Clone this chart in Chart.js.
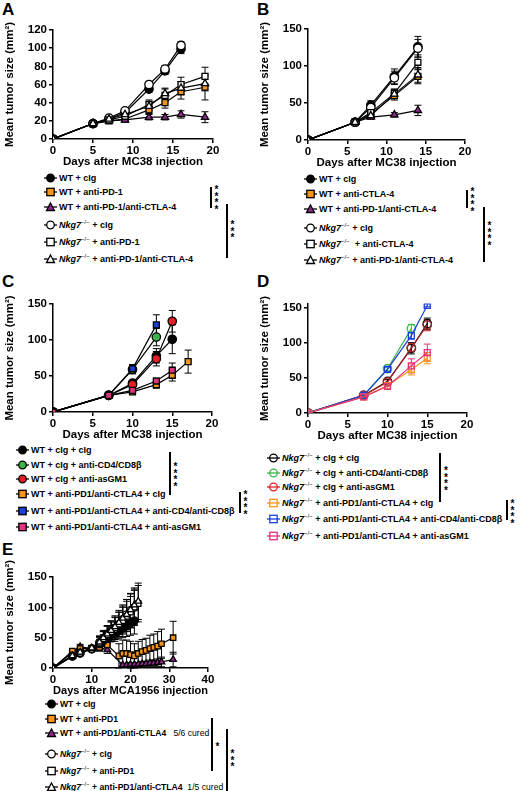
<!DOCTYPE html>
<html>
<head>
<meta charset="utf-8">
<script src="https://cdn.jsdelivr.net/npm/chart.js@4.4.1/dist/chart.umd.min.js"></script>
<style>
  body { margin:0; background:#fff; width:520px; height:791px; position:relative; overflow:hidden;
         font-family:"Liberation Sans", Arial, sans-serif; }
  .cv { position:absolute; }
  .lt { position:absolute; font-weight:bold; font-size:17px; }
  .lg { position:absolute; font-weight:bold; font-size:9px; white-space:nowrap; line-height:12px; }
  .lg.sm { font-size:8.6px; }
  .lg svg { vertical-align:middle; margin-right:2px; position:relative; top:-1px; }
  .lg sup { font-size:6px; font-weight:normal; }
  .bar { position:absolute; border-left:2px solid #000; }
  .st { position:absolute; font-weight:bold; font-size:10px; line-height:10px; }
  .cu { position:absolute; font-size:8.6px; white-space:nowrap; }
</style>
</head>
<body>
<div class="lt" style="left:2px;top:0px">A</div>
<div class="lt" style="left:257px;top:0px">B</div>
<div class="lt" style="left:2px;top:272px">C</div>
<div class="lt" style="left:257px;top:272px">D</div>
<div class="lt" style="left:2px;top:540px">E</div>

<canvas id="cA" class="cv"></canvas>
<canvas id="cB" class="cv"></canvas>
<canvas id="cC" class="cv"></canvas>
<canvas id="cD" class="cv"></canvas>
<canvas id="cE" class="cv"></canvas>

<div id="legends"></div>

<script>
// ---- panel A: MC38, anti-PD-1 ----
const daysA = [0, 5, 7, 9, 12, 14, 16, 19];
const aWtCig = [0, 17, 22, 29, 55, 75, 99];
const aWtCigErr = [0, 1, 2, 2, 3, 4, 5];
const aWtPd1 = [0, 17, 20, 22, 32, 40, 52, 57];
const aWtPd1Err = [0, 1, 1, 2, 4, 6, 8, 14];
const aWtCombo = [0, 17, 20, 21, 24, 24, 27, 24];
const aWtComboErr = [0, 1, 1, 1, 3, 3, 4, 6];
const aNkCig = [0, 17, 23, 31, 60, 77, 103];
const aNkCigErr = [0, 1, 2, 2, 3, 4, 4];
const aNkPd1 = [0, 17, 21, 25, 38, 48, 60, 69];
const aNkPd1Err = [0, 1, 2, 3, 5, 7, 8, 10];
const aNkCombo = [0, 17, 22, 27, 36, 50, 56, 61];
const aNkComboErr = [0, 1, 2, 3, 5, 6, 7, 8];

// ---- panel B: MC38, anti-CTLA-4 ----
const daysB = [0, 6, 8, 11, 14];
const bWtCig = [0, 24, 47, 86, 126];
const bWtCigErr = [0, 2, 6, 10, 14];
const bWtCtla = [0, 24, 35, 60, 86];
const bWtCtlaErr = [0, 2, 5, 6, 10];
const bWtCombo = [0, 24, 31, 34, 40];
const bWtComboErr = [0, 2, 3, 3, 7];
const bNkCig = [0, 24, 44, 84, 124];
const bNkCigErr = [0, 2, 5, 9, 12];
const bNkCtla = [0, 24, 37, 63, 105];
const bNkCtlaErr = [0, 2, 5, 6, 10];
const bNkCombo = [0, 24, 33, 62, 88];
const bNkComboErr = [0, 2, 4, 6, 10];

// ---- panel C: WT depletion ----
const daysC = [0, 7, 10, 13, 15, 17];
const cCigCig = [0, 23, 40, 78, 101];
const cCigCigErr = [0, 2, 4, 10, 20];
const cCigCd = [0, 23, 59, 104];
const cCigCdErr = [0, 2, 6, 12];
const cCigGm = [0, 23, 38, 74, 126];
const cCigGmErr = [0, 2, 4, 10, 15];
const cComboCig = [0, 23, 28, 38, 51, 70];
const cComboCigErr = [0, 2, 3, 5, 8, 16];
const cComboCd = [0, 23, 60, 121];
const cComboCdErr = [0, 2, 6, 14];
const cComboGm = [0, 23, 30, 43, 58];
const cComboGmErr = [0, 2, 3, 4, 10];

// ---- panel D: Nkg7-/- depletion ----
const daysD = [0, 7, 10, 13, 15];
const dCigCig = [0, 25, 45, 92, 127];
const dCigCigErr = [0, 2, 3, 8, 8];
const dCigCd = [0, 25, 63, 120];
const dCigCdErr = [0, 2, 3, 6];
const dCigGm = [0, 25, 44, 93, 125];
const dCigGmErr = [0, 2, 3, 6, 8];
const dComboCig = [0, 23, 39, 62, 78];
const dComboCigErr = [0, 2, 4, 8, 8];
const dComboCd = [0, 25, 62, 110, 153];
const dComboCdErr = [0, 2, 3, 5, 2];
const dComboGm = [0, 23, 38, 67, 86];
const dComboGmErr = [0, 2, 4, 10, 12];

// ---- panel E: MCA1956 ----
const eDaysShort = [0, 5, 7, 10, 12, 13, 14, 15, 16, 17, 18, 19, 20, 21];
const eWtCig = [0, 19, 24, 31, 40, 45, 50, 55, 58, 62, 66, 70, 74, 78];
const eWtCigErr = [0, 3, 4, 4, 10, 10, 12, 12, 14, 14, 16, 18, 20, 22];
const eNkCig = [0, 20, 25, 32, 42, 48, 55, 60, 65, 72, 80, 88, 95, 100];
const eNkCigErr = [0, 3, 4, 4, 10, 12, 14, 16, 18, 20, 22, 25, 28, 30];
const eDaysNk = [0, 5, 7, 10, 12, 13, 14, 15, 16, 17, 18, 19, 20, 21, 22];
const eNkPd1 = [0, 20, 26, 33, 42, 48, 55, 60, 66, 72, 78, 85, 92, 100, 106];
const eNkPd1Err = [0, 3, 4, 4, 10, 12, 14, 16, 18, 20, 22, 25, 26, 28, 30];
const eNkCombo = [0, 20, 26, 33, 43, 50, 56, 62, 68, 75, 82, 88, 96, 104, 110];
const eNkComboErr = [0, 3, 4, 4, 10, 12, 14, 16, 18, 20, 22, 25, 26, 28, 30];
const eDaysPd1 = [0, 5, 7, 10, 12, 14, 17, 18, 19, 20, 21, 22, 23, 24, 25, 26, 27, 28, 31];
const eWtPd1 = [0, 28, 32, 32, 34, 38, 20, 24, 24, 22, 20, 24, 27, 29, 32, 34, 36, 40, 50];
const eWtPd1Err = [0, 3, 4, 4, 6, 10, 20, 22, 22, 22, 20, 20, 20, 20, 22, 22, 24, 24, 27];
const eDaysCombo = [0, 5, 7, 10, 12, 14, 18, 19, 20, 21, 22, 23, 24, 25, 26, 27, 28, 31];
const eWtCombo = [0, 25, 35, 32, 34, 30, 5, 5, 6, 6, 6, 7, 7, 8, 8, 9, 10, 14];
const eWtComboErr = [0, 3, 4, 4, 6, 6, 2, 2, 3, 3, 3, 4, 4, 5, 5, 6, 8, 12];

const ORANGE = "#F7941D", PURPLE = "#92278F", GREEN = "#3CB54A", RED = "#E31E24",
      BLUE = "#1B3FD8", PINK = "#E2337D", DRED = "#B0262B";

function pts(days, vals) { return vals.map((v, i) => ({ x: days[i], y: v })); }

function series(days, vals, err, shape, fill, line, errColor, r) {
  return {
    data: pts(days, vals), err: err, errColor: errColor || "#000",
    pointStyle: shape, pointRadius: r || 4.2, pointBackgroundColor: fill,
    pointBorderColor: line || "#000", pointBorderWidth: 1.3,
    borderColor: line || "#000", borderWidth: 1.2, showLine: true, fill: false
  };
}

const errorBars = {
  id: "errorBars",
  beforeDatasetsDraw(chart) {
    const ctx = chart.ctx, xs = chart.scales.x, ys = chart.scales.y;
    chart.data.datasets.forEach((ds) => {
      if (!ds.err) return;
      ctx.save();
      ctx.strokeStyle = ds.errColor;
      ctx.lineWidth = 1;
      ds.data.forEach((p, j) => {
        const e = ds.err[j];
        if (!e) return;
        const px = xs.getPixelForValue(p.x);
        const t = ys.getPixelForValue(p.y + e), b = ys.getPixelForValue(Math.max(0, p.y - e));
        ctx.beginPath();
        ctx.moveTo(px, t); ctx.lineTo(px, b);
        ctx.moveTo(px - 3.5, t); ctx.lineTo(px + 3.5, t);
        ctx.moveTo(px - 3.5, b); ctx.lineTo(px + 3.5, b);
        ctx.stroke();
      });
      ctx.restore();
    });
  }
};

Chart.defaults.font.family = '"Liberation Sans", Arial, sans-serif';
Chart.defaults.color = "#000";

const Y_W = 50, X_H = 30, PAD_T = 10, PAD_R = 10;

// box = [axisLeft, axisRight, topPixel, zeroPixel, extraTop]
function makeChart(id, box, datasets, xMax, xStep, yMax, yStep, xTitle) {
  const cv = document.getElementById(id);
  const extra = box[4] || 0;
  const left = box[0] - Y_W, top = box[2] - PAD_T - extra;
  cv.width = box[1] - left + PAD_R;
  cv.height = box[3] - top + X_H;
  cv.style.left = left + "px";
  cv.style.top = top + "px";
  new Chart(cv, {
    type: "scatter",
    data: { datasets: datasets },
    plugins: [errorBars],
    options: {
      responsive: false, animation: false,
      layout: { padding: { left: 0, right: PAD_R, top: PAD_T + extra, bottom: 0 } },
      plugins: { legend: { display: false }, tooltip: { enabled: false } },
      scales: {
        x: {
          type: "linear", min: 0, max: xMax,
          afterFit: (s) => { s.height = X_H; },
          ticks: { stepSize: xStep, font: { size: 11.5, weight: "bold" }, padding: 1 },
          grid: { drawOnChartArea: false, color: "#000", lineWidth: 1.5, tickLength: 4 },
          border: { color: "#000", width: 1.5 },
          title: { display: true, text: xTitle, font: { size: 11.5, weight: "bold" }, padding: 0 }
        },
        y: {
          min: 0, max: yMax,
          afterFit: (s) => { s.width = Y_W; },
          ticks: { stepSize: yStep, includeBounds: false, font: { size: 11.5, weight: "bold" }, padding: 2 },
          grid: { drawOnChartArea: false, color: "#000", lineWidth: 1.5, tickLength: 4 },
          border: { color: "#000", width: 1.5 },
          title: { display: true, text: "Mean tumor size (mm\u00B2)", font: { size: 11.5, weight: "bold" }, padding: 0 }
        }
      }
    }
  });
}

makeChart("cA", [53, 213, 30, 139], [
  series(daysA, aNkCombo, aNkComboErr, "triangle", "#fff"),
  series(daysA, aNkPd1, aNkPd1Err, "rect", "#fff"),
  series(daysA, aNkCig, aNkCigErr, "circle", "#fff"),
  series(daysA, aWtCombo, aWtComboErr, "triangle", PURPLE),
  series(daysA, aWtPd1, aWtPd1Err, "rect", ORANGE),
  series(daysA, aWtCig, aWtCigErr, "circle", "#000")
], 20, 5, 120, 20, "Days after MC38 injection");

makeChart("cB", [308, 465, 29, 140], [
  series(daysB, bNkCombo, bNkComboErr, "triangle", "#fff"),
  series(daysB, bNkCtla, bNkCtlaErr, "rect", "#fff"),
  series(daysB, bNkCig, bNkCigErr, "circle", "#fff"),
  series(daysB, bWtCombo, bWtComboErr, "triangle", PURPLE),
  series(daysB, bWtCtla, bWtCtlaErr, "rect", ORANGE),
  series(daysB, bWtCig, bWtCigErr, "circle", "#000")
], 20, 5, 150, 50, "Days after MC38 injection");

makeChart("cC", [53, 212, 304, 412], [
  series(daysC, cComboGm, cComboGmErr, "rect", PINK),
  series(daysC, cComboCig, cComboCigErr, "rect", ORANGE),
  series(daysC, cComboCd, cComboCdErr, "rect", BLUE),
  series(daysC, cCigGm, cCigGmErr, "circle", RED),
  series(daysC, cCigCd, cCigCdErr, "circle", GREEN),
  series(daysC, cCigCig, cCigCigErr, "circle", "#000")
], 20, 5, 150, 50, "Days after MC38 injection");

makeChart("cD", [308, 467, 304, 413], [
  series(daysD, dComboGm, dComboGmErr, "rect", "rgba(0,0,0,0)", PINK, PINK),
  series(daysD, dComboCig, dComboCigErr, "rect", "rgba(0,0,0,0)", ORANGE, ORANGE),
  series(daysD, dComboCd, dComboCdErr, "rect", "rgba(0,0,0,0)", BLUE, BLUE),
  series(daysD, dCigGm, dCigGmErr, "circle", "rgba(0,0,0,0)", DRED, DRED),
  series(daysD, dCigCd, dCigCdErr, "circle", "rgba(0,0,0,0)", GREEN, GREEN),
  series(daysD, dCigCig, dCigCigErr, "circle", "rgba(0,0,0,0)", "#000", "#000")
], 20, 5, 155, 50, "Days after MC38 injection");

makeChart("cE", [53, 208, 577, 668, 8], [
  series(eDaysNk, eNkCombo, eNkComboErr, "triangle", "#fff", "#000", "#000", 3.8),
  series(eDaysNk, eNkPd1, eNkPd1Err, "rect", "#fff", "#000", "#000", 3.8),
  series(eDaysShort, eNkCig, eNkCigErr, "circle", "#fff", "#000", "#000", 3.8),
  series(eDaysShort, eWtCig, eWtCigErr, "circle", "#000", "#000", "#000", 3.8),
  series(eDaysPd1, eWtPd1, eWtPd1Err, "rect", ORANGE, "#000", "#000", 3.8),
  series(eDaysCombo, eWtCombo, eWtComboErr, "triangle", PURPLE, "#000", "#000", 3.8)
], 40, 10, 150, 50, "Days after MCA1956 injection");

// ---- legends ----
function mk(shape, fill, stroke) {
  stroke = stroke || "#000";
  let s = "";
  if (shape === "circle") s = '<circle cx="6.5" cy="6" r="3.8" fill="' + fill + '" stroke="' + stroke + '" stroke-width="1.3"/>';
  if (shape === "rect") s = '<rect x="2.8" y="2.3" width="7.4" height="7.4" fill="' + fill + '" stroke="' + stroke + '" stroke-width="1.3"/>';
  if (shape === "tri") s = '<polygon points="6.5,2 10.5,9.5 2.5,9.5" fill="' + fill + '" stroke="' + stroke + '" stroke-width="1.3"/>';
  return '<svg width="13" height="12"><line x1="0" y1="6" x2="13" y2="6" stroke="' + stroke + '" stroke-width="1.3"/>' + s + '</svg>';
}
const NK = '<i>Nkg7</i><sup>\u2212/\u2212</sup>';
const items = [
  // panel A
  [44, 172, mk("circle", "#000"), "WT + cIg"],
  [44, 186, mk("rect", ORANGE), "WT + anti-PD-1"],
  [44, 201, mk("tri", PURPLE), "WT + anti-PD-1/anti-CTLA-4"],
  [44, 216, mk("circle", "#fff"), NK + " + cIg"],
  [44, 233, mk("rect", "#fff"), NK + " + anti-PD-1"],
  [44, 250, mk("tri", "#fff"), NK + " + anti-PD-1/anti-CTLA-4"],
  // panel B
  [304, 173, mk("circle", "#000"), "WT + cIg"],
  [304, 188, mk("rect", ORANGE), "WT + anti-CTLA-4"],
  [304, 203, mk("tri", PURPLE), "WT + anti-PD-1/anti-CTLA-4"],
  [304, 219, mk("circle", "#fff"), NK + " + cIg"],
  [304, 235, mk("rect", "#fff"), NK + " &nbsp;+ anti-CTLA-4"],
  [304, 251, mk("tri", "#fff"), NK + " + anti-PD-1/anti-CTLA-4"],
  // panel C
  [16, 444, mk("circle", "#000"), "WT + cIg + cIg"],
  [16, 459, mk("circle", GREEN), "WT + cIg + anti-CD4/CD8\u03B2"],
  [16, 473, mk("circle", RED), "WT + cIg + anti-asGM1"],
  [16, 488, mk("rect", ORANGE), "WT + anti-PD1/anti-CTLA4 + cIg"],
  [16, 505, mk("rect", BLUE), "WT + anti-PD1/anti-CTLA4 + anti-CD4/anti-CD8\u03B2"],
  [16, 521, mk("rect", PINK), "WT + anti-PD1/anti-CTLA4 + anti-asGM1"],
  // panel D
  [267, 449, mk("circle", "none", "#000"), NK + " + cIg + cIg"],
  [267, 464, mk("circle", "none", GREEN), NK + " + cIg + anti-CD4/anti-CD8\u03B2"],
  [267, 478, mk("circle", "none", RED), NK + " + cIg + anti-asGM1"],
  [267, 494, mk("rect", "none", ORANGE), NK + " + anti-PD1/anti-CTLA4 + cIg"],
  [267, 510, mk("rect", "none", BLUE), NK + " + anti-PD1/anti-CTLA4 + anti-CD4/anti-CD8\u03B2"],
  [267, 527, mk("rect", "none", PINK), NK + " + anti-PD1/anti-CTLA4 + anti-asGM1"],
  // panel E
  [45, 698, mk("circle", "#000"), "WT + cIg", "sm"],
  [45, 713, mk("rect", ORANGE), "WT + anti-PD1", "sm"],
  [45, 727, mk("tri", PURPLE), 'WT + anti-PD1/anti-CTLA4 &nbsp;&nbsp;<span style="font-weight:normal">5/6 cured</span>', "sm"],
  [45, 745, mk("circle", "#fff"), NK + " + cIg", "sm"],
  [45, 762, mk("rect", "#fff"), NK + " + anti-PD1", "sm"],
  [45, 778, mk("tri", "#fff"), NK + ' + anti-PD1/anti-CTLA4 &nbsp;<span style="font-weight:normal">1/5 cured</span>', "sm"]
];
let html = "";
items.forEach(it => {
  html += '<div class="lg ' + (it[4] || "") + '" style="left:' + it[0] + 'px;top:' + it[1] + 'px">' + it[2] + it[3] + '</div>';
});

// significance brackets: [barX, top, bottom, nStars, starX, firstStarY]
const sig = [
  [210, 187, 208, 4, 214.5, 188],
  [226, 204, 258, 3, 230.5, 223],
  [466, 190, 208, 4, 470.5, 190],
  [483, 207, 262, 4, 487.5, 224],
  [169, 452, 495, 4, 173.5, 465],
  [239, 492, 513, 4, 243.5, 493],
  [439, 453, 502, 4, 444, 469],
  [506, 500, 520, 4, 510.5, 502],
  [211, 718, 771, 1, 215.5, 745],
  [226, 729, 791, 3, 230.5, 752]
];
sig.forEach(s => {
  html += '<div class="bar" style="left:' + s[0] + 'px;top:' + s[1] + 'px;height:' + (s[2] - s[1]) + 'px"></div>';
  for (let k = 0; k < s[3]; k++) {
    html += '<div class="st" style="left:' + s[4] + 'px;top:' + (s[5] + k * 6.5 - 2.6) + 'px">*</div>';
  }
});
document.getElementById("legends").innerHTML = html;
</script>
</body>
</html>
